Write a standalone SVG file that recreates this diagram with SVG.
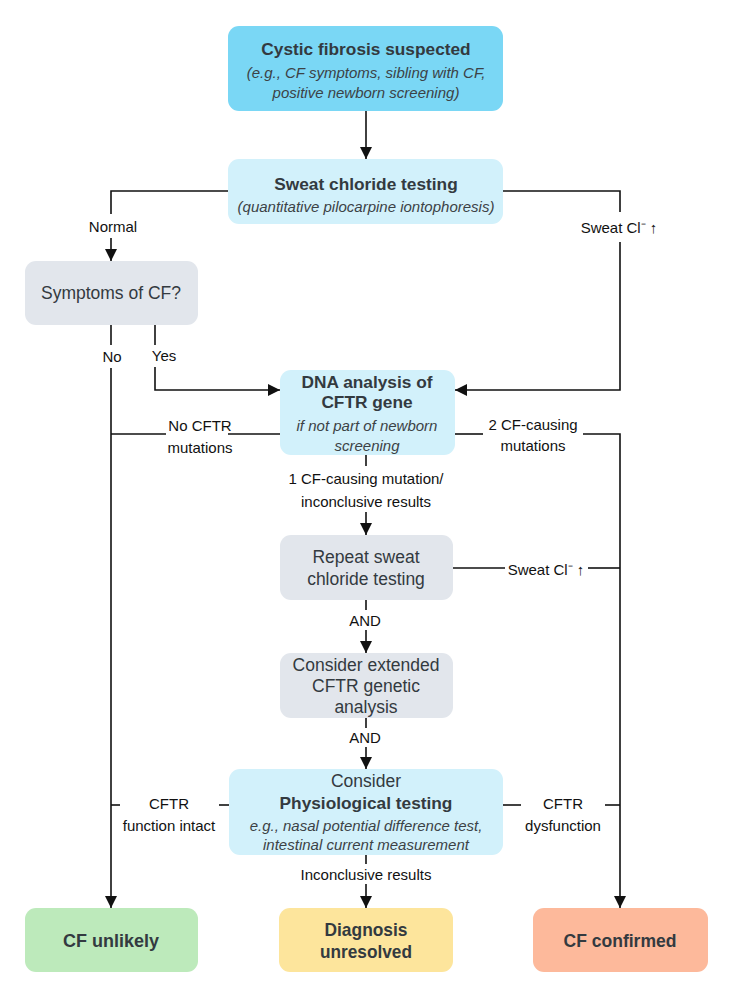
<svg xmlns="http://www.w3.org/2000/svg" width="735" height="999" viewBox="0 0 735 999">
<style>
text{font-family:"Liberation Sans",Arial,sans-serif;text-anchor:middle;}
.t{fill:#333a40;font-size:17.5px;}
.b{font-weight:bold;font-size:17.3px;}
.i{font-style:italic;font-size:15px;fill:#3c4246;}
.l{fill:#111;font-size:15px;}
.f{font-weight:bold;font-size:19px;fill:#333a40;}
.c{fill:none;stroke:#111;stroke-width:1.6;}
.blue{fill:#7ad7f5;}
.lb{fill:#d2f1fb;}
.gray{fill:#e2e6ec;}
</style>
<defs>
<marker id="ah" viewBox="0 0 12 12" refX="12" refY="6" markerWidth="12" markerHeight="12" markerUnits="userSpaceOnUse" orient="auto">
<path d="M0,0 L12,6 L0,12 z" fill="#111"/>
</marker>
</defs>
<rect width="735" height="999" fill="#fff"/>
<g id="connectors">
<path class="c" d="M366,111 V159" marker-end="url(#ah)"/>
<path class="c" d="M228,191 H111 V214"/>
<path class="c" d="M111,238 V261" marker-end="url(#ah)"/>
<path class="c" d="M503,191 H620 V212"/>
<path class="c" d="M620,242 V390 H455" marker-end="url(#ah)"/>
<path class="c" d="M111,325 V345"/>
<path class="c" d="M111,368 V908" marker-end="url(#ah)"/>
<path class="c" d="M155,325 V345"/>
<path class="c" d="M155,367 V390 H280" marker-end="url(#ah)"/>
<path class="c" d="M280,434 H228"/>
<path class="c" d="M166,434 H111"/>
<path class="c" d="M455,434 H483"/>
<path class="c" d="M583,434 H620 V908" marker-end="url(#ah)"/>
<path class="c" d="M366,455 V466"/>
<path class="c" d="M366,512 V535" marker-end="url(#ah)"/>
<path class="c" d="M453,568 H505"/>
<path class="c" d="M588,568 H620"/>
<path class="c" d="M366,600 V610"/>
<path class="c" d="M366,630 V653" marker-end="url(#ah)"/>
<path class="c" d="M366,718 V728"/>
<path class="c" d="M366,747 V769" marker-end="url(#ah)"/>
<path class="c" d="M229,805 H219"/>
<path class="c" d="M120,805 H111"/>
<path class="c" d="M503,805 H521"/>
<path class="c" d="M605,805 H620"/>
<path class="c" d="M366,855 V864"/>
<path class="c" d="M366,884 V908" marker-end="url(#ah)"/>
<text class="l" x="113" y="232">Normal</text>
<text class="l" x="619" y="233">Sweat Cl⁻ ↑</text>
<text class="l" x="112" y="362">No</text>
<text class="l" x="164" y="361">Yes</text>
<text class="l" x="200" y="431">No CFTR</text>
<text class="l" x="200" y="453">mutations</text>
<text class="l" x="533" y="430">2 CF-causing</text>
<text class="l" x="533" y="451">mutations</text>
<text class="l" x="366" y="484">1 CF-causing mutation/</text>
<text class="l" x="366" y="507">inconclusive results</text>
<text class="l" x="546" y="575">Sweat Cl⁻ ↑</text>
<text class="l" x="365" y="626">AND</text>
<text class="l" x="365" y="743">AND</text>
<text class="l" x="169" y="809">CFTR</text>
<text class="l" x="169" y="831">function intact</text>
<text class="l" x="563" y="809">CFTR</text>
<text class="l" x="563" y="831">dysfunction</text>
<text class="l" x="366" y="880">Inconclusive results</text>
</g>
<g id="n1">
<rect class="blue" x="228" y="26" width="275" height="85" rx="11"/>
<text class="t b" x="366" y="55">Cystic fibrosis suspected</text>
<text class="i" x="366" y="78">(e.g., CF symptoms, sibling with CF,</text>
<text class="i" x="366" y="98">positive newborn screening)</text>
</g>
<g id="n2">
<rect class="lb" x="228" y="159" width="275" height="65" rx="11"/>
<text class="t b" x="366" y="190">Sweat chloride testing</text>
<text class="i" x="366" y="212">(quantitative pilocarpine iontophoresis)</text>
</g>
<g id="n3">
<rect class="gray" x="25" y="261" width="173" height="64" rx="11"/>
<text class="t" x="111" y="299">Symptoms of CF?</text>
</g>
<g id="n4">
<rect class="lb" x="280" y="370" width="175" height="85" rx="11"/>
<text class="t b" x="367" y="388">DNA analysis of</text>
<text class="t b" x="367" y="408">CFTR gene</text>
<text class="i" x="367" y="431">if not part of newborn</text>
<text class="i" x="367" y="451">screening</text>
</g>
<g id="n5">
<rect class="gray" x="280" y="535" width="173" height="65" rx="11"/>
<text class="t" x="366" y="563">Repeat sweat</text>
<text class="t" x="366" y="585">chloride testing</text>
</g>
<g id="n6">
<rect class="gray" x="280" y="653" width="173" height="65" rx="11"/>
<text class="t" x="366" y="671">Consider extended</text>
<text class="t" x="366" y="692">CFTR genetic</text>
<text class="t" x="366" y="713">analysis</text>
</g>
<g id="n7">
<rect class="lb" x="229" y="769" width="274" height="86" rx="11"/>
<text class="t" x="366" y="787">Consider</text>
<text class="t b" x="366" y="809">Physiological testing</text>
<text class="i" x="366" y="831">e.g., nasal potential difference test,</text>
<text class="i" x="366" y="850">intestinal current measurement</text>
</g>
<g id="n8">
<rect x="25" y="908" width="173" height="64" rx="11" fill="#bdeabb"/>
<text class="f" x="111" y="947" textLength="96" lengthAdjust="spacingAndGlyphs">CF unlikely</text>
</g>
<g id="n9">
<rect x="279" y="908" width="174" height="64" rx="11" fill="#fde59c"/>
<text class="f" x="366" y="936" textLength="83" lengthAdjust="spacingAndGlyphs">Diagnosis</text>
<text class="f" x="366" y="958" textLength="92" lengthAdjust="spacingAndGlyphs">unresolved</text>
</g>
<g id="n10">
<rect x="533" y="908" width="175" height="64" rx="11" fill="#fdb99b"/>
<text class="f" x="620" y="947" textLength="113" lengthAdjust="spacingAndGlyphs">CF confirmed</text>
</g>
</svg>
